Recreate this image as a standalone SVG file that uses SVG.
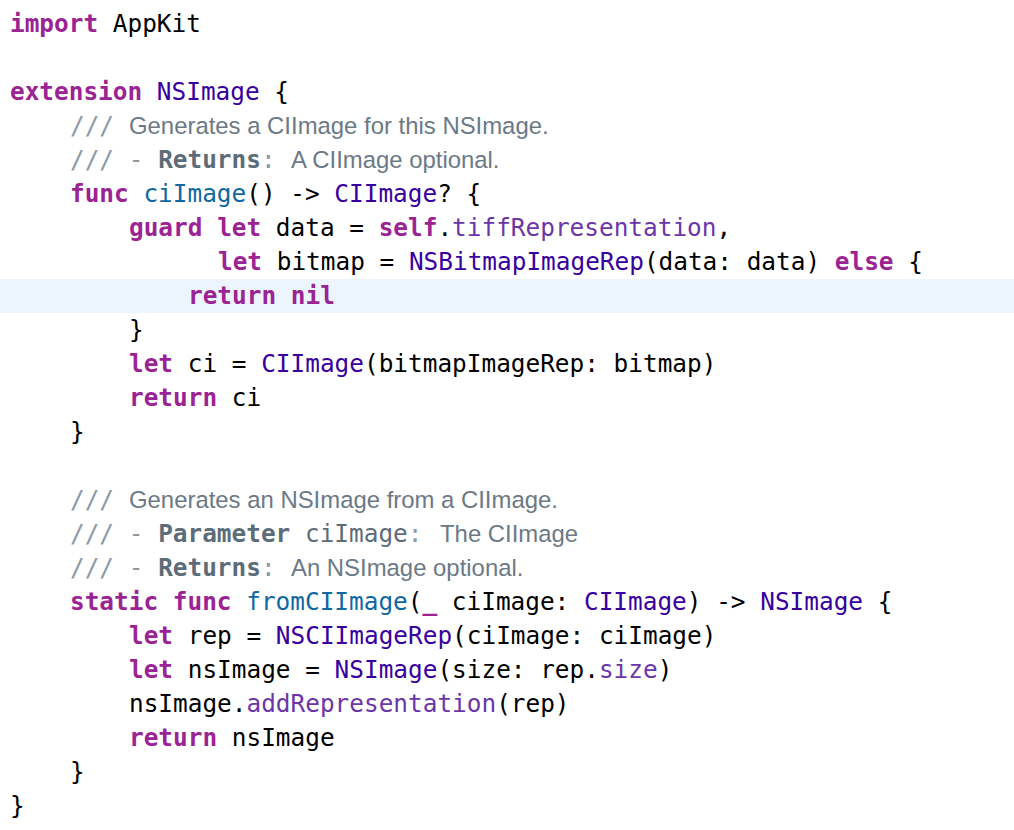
<svg xmlns="http://www.w3.org/2000/svg" width="1014" height="830" viewBox="0 0 1014 830">
<style>
text{font-family:"DejaVu Sans Mono","Liberation Mono",monospace;font-size:24.4px;fill:#000;white-space:pre}
.k{fill:#9B2393;font-weight:bold}
.t{fill:#3900A0}
.f{fill:#0F68A0}
.p{fill:#6C36A9}
.c{fill:#8A99A6}
.s{font-family:"Liberation Sans","Noto Sans",sans-serif;font-size:23.9px;fill:#6C7986}
.b{fill:#5D6C79;font-weight:bold}
</style>
<rect x="0" y="0" width="1014" height="830" fill="#fff"/>
<rect x="0" y="279" width="1014" height="34" fill="#ECF5FE"/>
<g id="code">
<text x="10" y="32" xml:space="preserve"><tspan class="k">import</tspan> AppKit</text>
<text x="10" y="100" xml:space="preserve"><tspan class="k">extension</tspan> <tspan class="t">NSImage</tspan> {</text>
<text x="70" y="134" xml:space="preserve"><tspan class="c">///</tspan></text>
<text x="129" y="134" class="s">Generates a CIImage for this NSImage.</text>
<text x="70" y="168" xml:space="preserve"><tspan class="c">/// -</tspan> <tspan class="b">Returns</tspan><tspan class="c">:</tspan></text>
<text x="291" y="168" class="s">A CIImage optional.</text>
<text x="70" y="202" xml:space="preserve"><tspan class="k">func</tspan> <tspan class="f">ciImage</tspan>() -&gt; <tspan class="t">CIImage</tspan>? {</text>
<text x="129" y="236" xml:space="preserve"><tspan class="k">guard</tspan> <tspan class="k">let</tspan> data = <tspan class="k">self</tspan>.<tspan class="p">tiffRepresentation</tspan>,</text>
<text x="218" y="270" xml:space="preserve"><tspan class="k">let</tspan> bitmap = <tspan class="t">NSBitmapImageRep</tspan>(data: data) <tspan class="k">else</tspan> {</text>
<text x="188" y="304" xml:space="preserve"><tspan class="k">return</tspan> <tspan class="k">nil</tspan></text>
<text x="129" y="338" xml:space="preserve">}</text>
<text x="129" y="372" xml:space="preserve"><tspan class="k">let</tspan> ci = <tspan class="t">CIImage</tspan>(bitmapImageRep: bitmap)</text>
<text x="129" y="406" xml:space="preserve"><tspan class="k">return</tspan> ci</text>
<text x="70" y="440" xml:space="preserve">}</text>
<text x="70" y="508" xml:space="preserve"><tspan class="c">///</tspan></text>
<text x="129" y="508" class="s">Generates an NSImage from a CIImage.</text>
<text x="70" y="542" xml:space="preserve"><tspan class="c">/// -</tspan> <tspan class="b">Parameter</tspan> <tspan fill="#5D6C79">ciImage</tspan><tspan class="c">:</tspan></text>
<text x="440" y="542" class="s">The CIImage</text>
<text x="70" y="576" xml:space="preserve"><tspan class="c">/// -</tspan> <tspan class="b">Returns</tspan><tspan class="c">:</tspan></text>
<text x="291" y="576" class="s">An NSImage optional.</text>
<text x="70" y="610" xml:space="preserve"><tspan class="k">static</tspan> <tspan class="k">func</tspan> <tspan class="f">fromCIImage</tspan>(<tspan class="k">_</tspan> ciImage: <tspan class="t">CIImage</tspan>) -&gt; <tspan class="t">NSImage</tspan> {</text>
<text x="129" y="644" xml:space="preserve"><tspan class="k">let</tspan> rep = <tspan class="t">NSCIImageRep</tspan>(ciImage: ciImage)</text>
<text x="129" y="678" xml:space="preserve"><tspan class="k">let</tspan> nsImage = <tspan class="t">NSImage</tspan>(size: rep.<tspan class="p">size</tspan>)</text>
<text x="129" y="712" xml:space="preserve">nsImage.<tspan class="p">addRepresentation</tspan>(rep)</text>
<text x="129" y="746" xml:space="preserve"><tspan class="k">return</tspan> nsImage</text>
<text x="70" y="780" xml:space="preserve">}</text>
<text x="10" y="814" xml:space="preserve">}</text>
</g>
</svg>
